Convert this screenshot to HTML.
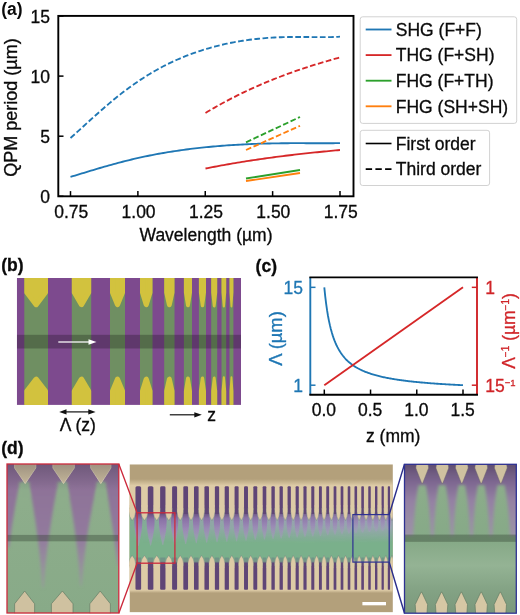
<!DOCTYPE html>
<html lang="en"><head><meta charset="utf-8"><title>Figure</title>
<style>
html,body{margin:0;padding:0;background:#fff;}
body{width:520px;height:615px;overflow:hidden;}
svg{display:block;}
svg text{font-family:"Liberation Sans", Arial, sans-serif;font-size:17.5px;stroke-width:0.3px;}
</style></head><body>
<svg width="520" height="615" viewBox="0 0 520 615" fill="#0a0a0a">
<rect width="520" height="615" fill="#fff"/>
<g id="panel-a">
<path d="M70.50,176.87 L72.76,176.20 L75.03,175.53 L77.29,174.84 L79.56,174.16 L81.82,173.47 L84.09,172.78 L86.35,172.09 L88.62,171.40 L90.88,170.72 L93.15,170.03 L95.41,169.35 L97.68,168.68 L99.94,168.01 L102.21,167.35 L104.47,166.69 L106.74,166.04 L109.00,165.40 L111.26,164.77 L113.53,164.14 L115.79,163.53 L118.06,162.92 L120.32,162.32 L122.59,161.73 L124.85,161.16 L127.12,160.59 L129.38,160.03 L131.65,159.49 L133.91,158.95 L136.18,158.43 L138.44,157.91 L140.71,157.41 L142.97,156.92 L145.24,156.44 L147.50,155.97 L149.76,155.51 L152.03,155.06 L154.29,154.62 L156.56,154.19 L158.82,153.77 L161.09,153.36 L163.35,152.97 L165.62,152.58 L167.88,152.20 L170.15,151.84 L172.41,151.48 L174.68,151.13 L176.94,150.79 L179.21,150.46 L181.47,150.14 L183.74,149.83 L186.00,149.53 L188.26,149.23 L190.53,148.95 L192.79,148.67 L195.06,148.40 L197.32,148.14 L199.59,147.89 L201.85,147.65 L204.12,147.41 L206.38,147.18 L208.65,146.96 L210.91,146.74 L213.18,146.54 L215.44,146.34 L217.71,146.14 L219.97,145.96 L222.24,145.78 L224.50,145.60 L226.76,145.44 L229.03,145.28 L231.29,145.13 L233.56,144.98 L235.82,144.84 L238.09,144.71 L240.35,144.58 L242.62,144.46 L244.88,144.34 L247.15,144.23 L249.41,144.13 L251.68,144.03 L253.94,143.94 L256.21,143.86 L258.47,143.78 L260.74,143.70 L263.00,143.63 L265.26,143.57 L267.53,143.51 L269.79,143.46 L272.06,143.41 L274.32,143.37 L276.59,143.33 L278.85,143.30 L281.12,143.27 L283.38,143.25 L285.65,143.23 L287.91,143.21 L290.18,143.20 L292.44,143.19 L294.71,143.19 L296.97,143.19 L299.24,143.19 L301.50,143.19 L303.76,143.20 L306.03,143.20 L308.29,143.21 L310.56,143.22 L312.82,143.23 L315.09,143.24 L317.35,143.25 L319.62,143.25 L321.88,143.25 L324.15,143.25 L326.41,143.25 L328.68,143.24 L330.94,143.23 L333.21,143.21 L335.47,143.18 L337.74,143.15 L340.00,143.10" fill="none" stroke="#1f77b4" stroke-width="1.85"/>
<path d="M205.50,168.51 L207.78,168.06 L210.06,167.61 L212.34,167.17 L214.62,166.73 L216.90,166.30 L219.18,165.87 L221.46,165.45 L223.74,165.04 L226.02,164.63 L228.30,164.23 L230.58,163.83 L232.86,163.44 L235.14,163.06 L237.42,162.67 L239.69,162.30 L241.97,161.93 L244.25,161.56 L246.53,161.20 L248.81,160.85 L251.09,160.50 L253.37,160.15 L255.65,159.81 L257.93,159.48 L260.21,159.14 L262.49,158.82 L264.77,158.50 L267.05,158.18 L269.33,157.87 L271.61,157.56 L273.89,157.25 L276.17,156.95 L278.45,156.66 L280.73,156.36 L283.01,156.08 L285.29,155.79 L287.57,155.51 L289.85,155.24 L292.13,154.97 L294.41,154.70 L296.69,154.43 L298.97,154.17 L301.25,153.91 L303.53,153.66 L305.81,153.41 L308.08,153.16 L310.36,152.92 L312.64,152.68 L314.92,152.44 L317.20,152.21 L319.48,151.98 L321.76,151.75 L324.04,151.52 L326.32,151.30 L328.60,151.08 L330.88,150.86 L333.16,150.65 L335.44,150.44 L337.72,150.23 L340.00,150.02" fill="none" stroke="#d62728" stroke-width="1.85"/>
<path d="M246.00,178.50 L300.00,170.00" fill="none" stroke="#2ca02c" stroke-width="1.85"/>
<path d="M246.00,181.00 L300.00,173.00" fill="none" stroke="#ff7f0e" stroke-width="1.85"/>
<path d="M70.50,138.02 L72.76,136.01 L75.03,133.98 L77.29,131.93 L79.56,129.87 L81.82,127.81 L84.09,125.74 L86.35,123.67 L88.62,121.61 L90.88,119.55 L93.15,117.50 L95.41,115.46 L97.68,113.44 L99.94,111.43 L102.21,109.44 L104.47,107.47 L106.74,105.53 L109.00,103.60 L111.26,101.70 L113.53,99.83 L115.79,97.98 L118.06,96.16 L120.32,94.37 L122.59,92.60 L124.85,90.87 L127.12,89.17 L129.38,87.50 L131.65,85.86 L133.91,84.26 L136.18,82.68 L138.44,81.14 L140.71,79.63 L142.97,78.15 L145.24,76.71 L147.50,75.30 L149.76,73.92 L152.03,72.57 L154.29,71.25 L156.56,69.97 L158.82,68.71 L161.09,67.49 L163.35,66.30 L165.62,65.14 L167.88,64.01 L170.15,62.91 L172.41,61.83 L174.68,60.79 L176.94,59.77 L179.21,58.78 L181.47,57.82 L183.74,56.89 L186.00,55.98 L188.26,55.10 L190.53,54.25 L192.79,53.42 L195.06,52.61 L197.32,51.83 L199.59,51.07 L201.85,50.34 L204.12,49.63 L206.38,48.94 L208.65,48.27 L210.91,47.63 L213.18,47.01 L215.44,46.41 L217.71,45.83 L219.97,45.27 L222.24,44.73 L224.50,44.21 L226.76,43.72 L229.03,43.24 L231.29,42.78 L233.56,42.34 L235.82,41.92 L238.09,41.52 L240.35,41.14 L242.62,40.77 L244.88,40.43 L247.15,40.10 L249.41,39.79 L251.68,39.50 L253.94,39.22 L256.21,38.97 L258.47,38.73 L260.74,38.50 L263.00,38.30 L265.26,38.11 L267.53,37.93 L269.79,37.77 L272.06,37.63 L274.32,37.51 L276.59,37.39 L278.85,37.29 L281.12,37.21 L283.38,37.14 L285.65,37.08 L287.91,37.04 L290.18,37.00 L292.44,36.98 L294.71,36.96 L296.97,36.96 L299.24,36.96 L301.50,36.97 L303.76,36.99 L306.03,37.01 L308.29,37.03 L310.56,37.06 L312.82,37.09 L315.09,37.11 L317.35,37.14 L319.62,37.15 L321.88,37.16 L324.15,37.16 L326.41,37.15 L328.68,37.13 L330.94,37.09 L333.21,37.03 L335.47,36.94 L337.74,36.84 L340.00,36.70" fill="none" stroke="#1f77b4" stroke-width="1.85" stroke-dasharray="5.7 2.5"/>
<path d="M205.50,112.94 L207.78,111.57 L210.06,110.23 L212.34,108.90 L214.62,107.59 L216.90,106.30 L219.18,105.02 L221.46,103.76 L223.74,102.52 L226.02,101.30 L228.30,100.09 L230.58,98.90 L232.86,97.72 L235.14,96.57 L237.42,95.42 L239.69,94.30 L241.97,93.18 L244.25,92.09 L246.53,91.01 L248.81,89.94 L251.09,88.89 L253.37,87.86 L255.65,86.83 L257.93,85.83 L260.21,84.83 L262.49,83.85 L264.77,82.89 L267.05,81.93 L269.33,81.00 L271.61,80.07 L273.89,79.16 L276.17,78.26 L278.45,77.37 L280.73,76.49 L283.01,75.63 L285.29,74.78 L287.57,73.94 L289.85,73.11 L292.13,72.30 L294.41,71.49 L296.69,70.70 L298.97,69.92 L301.25,69.14 L303.53,68.38 L305.81,67.63 L308.08,66.89 L310.36,66.16 L312.64,65.44 L314.92,64.72 L317.20,64.02 L319.48,63.33 L321.76,62.64 L324.04,61.97 L326.32,61.30 L328.60,60.64 L330.88,59.99 L333.16,59.35 L335.44,58.72 L337.72,58.09 L340.00,57.47" fill="none" stroke="#d62728" stroke-width="1.85" stroke-dasharray="5.7 2.5"/>
<path d="M246.00,142.30 L300.00,117.00" fill="none" stroke="#2ca02c" stroke-width="1.85" stroke-dasharray="5.7 2.5"/>
<path d="M246.00,150.00 L300.00,125.80" fill="none" stroke="#ff7f0e" stroke-width="1.85" stroke-dasharray="5.7 2.5"/>
<line x1="70.50" y1="196.3" x2="70.50" y2="191.10000000000002" stroke="#000" stroke-width="1.5"/>
<text x="71.20" y="217.6" text-anchor="middle" stroke="#0a0a0a">0.75</text>
<line x1="137.88" y1="196.3" x2="137.88" y2="191.10000000000002" stroke="#000" stroke-width="1.5"/>
<text x="138.57" y="217.6" text-anchor="middle" stroke="#0a0a0a">1.00</text>
<line x1="205.25" y1="196.3" x2="205.25" y2="191.10000000000002" stroke="#000" stroke-width="1.5"/>
<text x="205.95" y="217.6" text-anchor="middle" stroke="#0a0a0a">1.25</text>
<line x1="272.62" y1="196.3" x2="272.62" y2="191.10000000000002" stroke="#000" stroke-width="1.5"/>
<text x="273.32" y="217.6" text-anchor="middle" stroke="#0a0a0a">1.50</text>
<line x1="340.00" y1="196.3" x2="340.00" y2="191.10000000000002" stroke="#000" stroke-width="1.5"/>
<text x="340.70" y="217.6" text-anchor="middle" stroke="#0a0a0a">1.75</text>
<line x1="58.3" y1="196.30" x2="63.5" y2="196.30" stroke="#000" stroke-width="1.5"/>
<text x="50" y="202.80" text-anchor="end" stroke="#0a0a0a">0</text>
<line x1="58.3" y1="136.20" x2="63.5" y2="136.20" stroke="#000" stroke-width="1.5"/>
<text x="50" y="142.70" text-anchor="end" stroke="#0a0a0a">5</text>
<line x1="58.3" y1="76.10" x2="63.5" y2="76.10" stroke="#000" stroke-width="1.5"/>
<text x="50" y="82.60" text-anchor="end" stroke="#0a0a0a">10</text>
<line x1="58.3" y1="16.00" x2="63.5" y2="16.00" stroke="#000" stroke-width="1.5"/>
<text x="50" y="22.50" text-anchor="end" stroke="#0a0a0a">15</text>
<rect x="58.3" y="15.9" width="295.2" height="180.4" fill="none" stroke="#000" stroke-width="1.9"/>
<text x="206" y="241.3" text-anchor="middle" stroke="#0a0a0a">Wavelength (µm)</text>
<text transform="translate(16.9,107.6) rotate(-90) scale(1.03,1)" text-anchor="middle" stroke="#0a0a0a">QPM period (µm)</text>
<text x="1.2" y="14.7" font-weight="bold" font-size="16.6" style="stroke-width:0" stroke="#0a0a0a">(a)</text>
<rect x="360.2" y="16.8" width="156.5" height="106.6" rx="2.5" fill="#fff" fill-opacity="0.8" stroke="#d2d2d2" stroke-width="1"/>
<line x1="365.7" y1="29.50" x2="391.5" y2="29.50" stroke="#1f77b4" stroke-width="1.85"/>
<text x="395.8" y="35.80" font-size="17.7" stroke="#0a0a0a">SHG (F+F)</text>
<line x1="365.7" y1="55.10" x2="391.5" y2="55.10" stroke="#d62728" stroke-width="1.85"/>
<text x="395.8" y="61.40" font-size="17.7" stroke="#0a0a0a">THG (F+SH)</text>
<line x1="365.7" y1="80.70" x2="391.5" y2="80.70" stroke="#2ca02c" stroke-width="1.85"/>
<text x="395.8" y="87.00" font-size="17.7" stroke="#0a0a0a">FHG (F+TH)</text>
<line x1="365.7" y1="106.30" x2="391.5" y2="106.30" stroke="#ff7f0e" stroke-width="1.85"/>
<text x="395.8" y="112.60" font-size="17.7" stroke="#0a0a0a">FHG (SH+SH)</text>
<rect x="360.2" y="130.3" width="129.4" height="55.2" rx="2.5" fill="#fff" fill-opacity="0.8" stroke="#d2d2d2" stroke-width="1"/>
<line x1="365.7" y1="143.5" x2="391.5" y2="143.5" stroke="#000" stroke-width="1.6"/>
<text x="395.8" y="149.8" font-size="17.7" stroke="#0a0a0a">First order</text>
<line x1="365.7" y1="169.1" x2="391.5" y2="169.1" stroke="#000" stroke-width="1.85" stroke-dasharray="6.4 3.3"/>
<text x="395.8" y="175.4" font-size="17.7" stroke="#0a0a0a">Third order</text>
</g>
<g id="panel-b">
<text x="1.3" y="271.3" font-weight="bold" font-size="17.7" stroke="#0a0a0a">(b)</text>
<clipPath id="clipb"><rect x="16.8" y="278.0" width="224.2" height="126.89999999999998"/></clipPath>
<g clip-path="url(#clipb)">
<rect x="16.8" y="278.0" width="224.2" height="126.89999999999998" fill="#7d4a8e"/>
<rect x="24.3" y="278.0" width="23.70" height="126.89999999999998" fill="#6f8f62"/>
<path d="M26.90,275.0 L45.40,275.0 L45.40,292.5 L36.15,304.61 L26.90,292.5 Z" fill="#d2c23e" stroke="#d2c23e" stroke-width="5.20" stroke-linejoin="round"/>
<path d="M26.90,407.9 L45.40,407.9 L45.40,391.0 L36.15,379.19 L26.90,391.0 Z" fill="#d2c23e" stroke="#d2c23e" stroke-width="5.20" stroke-linejoin="round"/>
<rect x="71.8" y="278.0" width="19.40" height="126.89999999999998" fill="#6f8f62"/>
<path d="M74.40,275.0 L88.60,275.0 L88.60,292.5 L81.50,304.61 L74.40,292.5 Z" fill="#d2c23e" stroke="#d2c23e" stroke-width="5.20" stroke-linejoin="round"/>
<path d="M74.40,407.9 L88.60,407.9 L88.60,391.0 L81.50,379.19 L74.40,391.0 Z" fill="#d2c23e" stroke="#d2c23e" stroke-width="5.20" stroke-linejoin="round"/>
<rect x="110.0" y="278.0" width="15.00" height="126.89999999999998" fill="#6f8f62"/>
<path d="M112.60,275.0 L122.40,275.0 L122.40,292.5 L117.50,304.61 L112.60,292.5 Z" fill="#d2c23e" stroke="#d2c23e" stroke-width="5.20" stroke-linejoin="round"/>
<path d="M112.60,407.9 L122.40,407.9 L122.40,391.0 L117.50,379.19 L112.60,391.0 Z" fill="#d2c23e" stroke="#d2c23e" stroke-width="5.20" stroke-linejoin="round"/>
<rect x="140.0" y="278.0" width="12.50" height="126.89999999999998" fill="#6f8f62"/>
<path d="M142.60,275.0 L149.90,275.0 L149.90,292.5 L146.25,304.61 L142.60,292.5 Z" fill="#d2c23e" stroke="#d2c23e" stroke-width="5.20" stroke-linejoin="round"/>
<path d="M142.60,407.9 L149.90,407.9 L149.90,391.0 L146.25,379.19 L142.60,391.0 Z" fill="#d2c23e" stroke="#d2c23e" stroke-width="5.20" stroke-linejoin="round"/>
<rect x="164.2" y="278.0" width="10.30" height="126.89999999999998" fill="#6f8f62"/>
<path d="M166.65,275.0 L172.05,275.0 L172.05,292.5 L169.35,304.78 L166.65,292.5 Z" fill="#d2c23e" stroke="#d2c23e" stroke-width="4.90" stroke-linejoin="round"/>
<path d="M166.65,407.9 L172.05,407.9 L172.05,391.0 L169.35,379.02 L166.65,391.0 Z" fill="#d2c23e" stroke="#d2c23e" stroke-width="4.90" stroke-linejoin="round"/>
<rect x="183.9" y="278.0" width="8.10" height="126.89999999999998" fill="#6f8f62"/>
<path d="M185.83,275.0 L190.07,275.0 L190.07,292.5 L187.95,305.38 L185.83,292.5 Z" fill="#d2c23e" stroke="#d2c23e" stroke-width="3.86" stroke-linejoin="round"/>
<path d="M185.83,407.9 L190.07,407.9 L190.07,391.0 L187.95,378.42 L185.83,391.0 Z" fill="#d2c23e" stroke="#d2c23e" stroke-width="3.86" stroke-linejoin="round"/>
<rect x="198.9" y="278.0" width="7.10" height="126.89999999999998" fill="#6f8f62"/>
<path d="M200.59,275.0 L204.31,275.0 L204.31,292.5 L202.45,305.66 L200.59,292.5 Z" fill="#d2c23e" stroke="#d2c23e" stroke-width="3.38" stroke-linejoin="round"/>
<path d="M200.59,407.9 L204.31,407.9 L204.31,391.0 L202.45,378.14 L200.59,391.0 Z" fill="#d2c23e" stroke="#d2c23e" stroke-width="3.38" stroke-linejoin="round"/>
<rect x="211.2" y="278.0" width="6.00" height="126.89999999999998" fill="#6f8f62"/>
<path d="M212.63,275.0 L215.77,275.0 L215.77,292.5 L214.20,305.96 L212.63,292.5 Z" fill="#d2c23e" stroke="#d2c23e" stroke-width="2.86" stroke-linejoin="round"/>
<path d="M212.63,407.9 L215.77,407.9 L215.77,391.0 L214.20,377.84 L212.63,391.0 Z" fill="#d2c23e" stroke="#d2c23e" stroke-width="2.86" stroke-linejoin="round"/>
<rect x="221.5" y="278.0" width="4.70" height="126.89999999999998" fill="#6f8f62"/>
<path d="M222.62,275.0 L225.08,275.0 L225.08,292.5 L223.85,306.31 L222.62,292.5 Z" fill="#d2c23e" stroke="#d2c23e" stroke-width="2.24" stroke-linejoin="round"/>
<path d="M222.62,407.9 L225.08,407.9 L225.08,391.0 L223.85,377.49 L222.62,391.0 Z" fill="#d2c23e" stroke="#d2c23e" stroke-width="2.24" stroke-linejoin="round"/>
<rect x="229.5" y="278.0" width="3.90" height="126.89999999999998" fill="#6f8f62"/>
<path d="M230.43,275.0 L232.47,275.0 L232.47,292.5 L231.45,306.53 L230.43,292.5 Z" fill="#d2c23e" stroke="#d2c23e" stroke-width="1.86" stroke-linejoin="round"/>
<path d="M230.43,407.9 L232.47,407.9 L232.47,391.0 L231.45,377.27 L230.43,391.0 Z" fill="#d2c23e" stroke="#d2c23e" stroke-width="1.86" stroke-linejoin="round"/>
<rect x="16.8" y="334.8" width="224.2" height="13.7" fill="#000" fill-opacity="0.24"/>
</g>
<line x1="58.3" y1="342" x2="90" y2="342" stroke="#fff" stroke-width="1.25"/>
<path d="M96.5,342 L88.5,339.2 L88.5,344.8 Z" fill="#fff"/>
<line x1="63" y1="411.9" x2="92" y2="411.9" stroke="#111" stroke-width="1.2"/>
<path d="M59.2,411.9 L66.5,409.3 L66.5,414.5 Z M95.6,411.9 L88.3,409.3 L88.3,414.5 Z" fill="#111"/>
<text x="77.8" y="430.8" text-anchor="middle" stroke="#0a0a0a">Λ (z)</text>
<line x1="169.8" y1="414.8" x2="196" y2="414.8" stroke="#111" stroke-width="1.2"/>
<path d="M201.8,414.8 L194.3,412.2 L194.3,417.4 Z" fill="#111"/>
<text x="207.3" y="420.5" stroke="#0a0a0a">z</text>
</g>
<g id="panel-c">
<text x="255.6" y="272.4" font-weight="bold" font-size="17.7" stroke="#0a0a0a">(c)</text>
<path d="M324.30,287.34 L325.23,296.35 L326.16,303.93 L327.09,310.40 L328.02,315.98 L328.95,320.85 L329.89,325.14 L330.82,328.94 L331.75,332.33 L332.68,335.38 L333.61,338.13 L334.54,340.63 L335.47,342.91 L336.40,344.99 L337.33,346.91 L338.26,348.67 L339.19,350.31 L340.13,351.82 L341.06,353.23 L341.99,354.55 L342.92,355.77 L343.85,356.92 L344.78,358.00 L345.71,359.02 L346.64,359.98 L347.57,360.88 L348.50,361.74 L349.43,362.55 L350.37,363.31 L351.30,364.04 L352.23,364.73 L353.16,365.39 L354.09,366.02 L355.02,366.62 L355.95,367.19 L356.88,367.74 L357.81,368.27 L358.74,368.77 L359.67,369.25 L360.61,369.71 L361.54,370.16 L362.47,370.58 L363.40,370.99 L364.33,371.39 L365.26,371.77 L366.19,372.14 L367.12,372.49 L368.05,372.83 L368.98,373.16 L369.91,373.48 L370.85,373.79 L371.78,374.09 L372.71,374.38 L373.64,374.66 L374.57,374.93 L375.50,375.19 L376.43,375.45 L377.36,375.69 L378.29,375.93 L379.22,376.17 L380.15,376.39 L381.09,376.61 L382.02,376.83 L382.95,377.04 L383.88,377.24 L384.81,377.44 L385.74,377.63 L386.67,377.82 L387.60,378.00 L388.53,378.18 L389.46,378.35 L390.39,378.52 L391.33,378.69 L392.26,378.85 L393.19,379.01 L394.12,379.16 L395.05,379.31 L395.98,379.46 L396.91,379.60 L397.84,379.74 L398.77,379.88 L399.70,380.01 L400.63,380.14 L401.57,380.27 L402.50,380.40 L403.43,380.52 L404.36,380.64 L405.29,380.76 L406.22,380.88 L407.15,380.99 L408.08,381.10 L409.01,381.21 L409.94,381.32 L410.87,381.42 L411.81,381.53 L412.74,381.63 L413.67,381.73 L414.60,381.82 L415.53,381.92 L416.46,382.01 L417.39,382.10 L418.32,382.19 L419.25,382.28 L420.18,382.37 L421.11,382.46 L422.05,382.54 L422.98,382.62 L423.91,382.70 L424.84,382.78 L425.77,382.86 L426.70,382.94 L427.63,383.02 L428.56,383.09 L429.49,383.16 L430.42,383.24 L431.35,383.31 L432.29,383.38 L433.22,383.45 L434.15,383.52 L435.08,383.58 L436.01,383.65 L436.94,383.71 L437.87,383.78 L438.80,383.84 L439.73,383.90 L440.66,383.96 L441.59,384.02 L442.53,384.08 L443.46,384.14 L444.39,384.20 L445.32,384.26 L446.25,384.31 L447.18,384.37 L448.11,384.42 L449.04,384.48 L449.97,384.53 L450.90,384.58 L451.83,384.63 L452.77,384.68 L453.70,384.73 L454.63,384.78 L455.56,384.83 L456.49,384.88 L457.42,384.93 L458.35,384.97 L459.28,385.02 L460.21,385.07 L461.14,385.11 L462.07,385.16 L463.00,385.20" fill="none" stroke="#1f77b4" stroke-width="1.85"/>
<path d="M324.30,385.20 L463.00,287.20" fill="none" stroke="#d62728" stroke-width="1.85"/>
<line x1="324.30" y1="394.75" x2="324.30" y2="389.55" stroke="#000" stroke-width="1.5"/>
<text x="323.90" y="416.2" text-anchor="middle" stroke="#0a0a0a">0.0</text>
<line x1="370.54" y1="394.75" x2="370.54" y2="389.55" stroke="#000" stroke-width="1.5"/>
<text x="370.14" y="416.2" text-anchor="middle" stroke="#0a0a0a">0.5</text>
<line x1="416.77" y1="394.75" x2="416.77" y2="389.55" stroke="#000" stroke-width="1.5"/>
<text x="416.37" y="416.2" text-anchor="middle" stroke="#0a0a0a">1.0</text>
<line x1="463.00" y1="394.75" x2="463.00" y2="389.55" stroke="#000" stroke-width="1.5"/>
<text x="462.61" y="416.2" text-anchor="middle" stroke="#0a0a0a">1.5</text>
<line x1="310.3" y1="385.20" x2="315.5" y2="385.20" stroke="#1f77b4" stroke-width="1.5"/>
<line x1="477.0" y1="385.20" x2="471.8" y2="385.20" stroke="#d02428" stroke-width="1.5"/>
<text x="303" y="392.00" text-anchor="end" fill="#1f77b4" stroke="#1f77b4">1</text>
<line x1="310.3" y1="287.34" x2="315.5" y2="287.34" stroke="#1f77b4" stroke-width="1.5"/>
<line x1="477.0" y1="287.34" x2="471.8" y2="287.34" stroke="#d02428" stroke-width="1.5"/>
<text x="303" y="294.14" text-anchor="end" fill="#1f77b4" stroke="#1f77b4">15</text>
<text x="485.2" y="293.74" fill="#d02428" font-size="15.2" stroke="#d02428">1</text>
<text x="485.2" y="391.60" fill="#d02428" font-size="15.2" stroke="#d02428">15<tspan dy="-5.5" font-size="9.5">−1</tspan></text>
<line x1="310.3" y1="277.4" x2="310.3" y2="394.75" stroke="#1f77b4" stroke-width="1.9"/>
<line x1="477.0" y1="277.4" x2="477.0" y2="394.75" stroke="#d02428" stroke-width="1.9"/>
<line x1="309.35" y1="277.4" x2="477.95" y2="277.4" stroke="#000" stroke-width="1.9"/>
<line x1="309.35" y1="394.75" x2="477.95" y2="394.75" stroke="#000" stroke-width="1.9"/>
<text x="393.2" y="442.4" text-anchor="middle" stroke="#0a0a0a">z (mm)</text>
<text transform="translate(282,338.5) rotate(-90) scale(1.05,1)" text-anchor="middle" fill="#1f77b4" stroke="#1f77b4">Λ (µm)</text>
<text transform="translate(515,331) rotate(-90)" text-anchor="middle" fill="#d02428" stroke="#d02428">Λ<tspan dy="-6.5" font-size="10">−1</tspan><tspan dy="6.5"> (µm</tspan><tspan dy="-6.5" font-size="10">−1</tspan><tspan dy="6.5">)</tspan></text>
</g>
<g id="panel-d">
<text x="1.2" y="453.8" font-weight="bold" font-size="17.7" stroke="#0a0a0a">(d)</text>
<defs>
<filter id="bl1" x="-20%" y="-20%" width="140%" height="140%"><feGaussianBlur stdDeviation="1.6"/></filter>
<filter id="bl2" x="-20%" y="-20%" width="140%" height="140%"><feGaussianBlur stdDeviation="0.9"/></filter>
<filter id="bl3" x="-20%" y="-20%" width="140%" height="140%"><feGaussianBlur stdDeviation="0.4"/></filter>
<clipPath id="clipL"><rect x="7" y="464" width="111.8" height="149.2"/></clipPath>
<clipPath id="clipM"><rect x="129.5" y="464.3" width="263.3" height="148.3"/></clipPath>
<clipPath id="clipR"><rect x="404.5" y="464.3" width="111.8" height="148.9"/></clipPath>
<linearGradient id="gL" x1="0" y1="0" x2="0" y2="1"><stop offset="0" stop-color="#8fae8c"/><stop offset="1" stop-color="#88aa88"/></linearGradient>
</defs>
<linearGradient id="gW" gradientUnits="userSpaceOnUse" x1="0" y1="483" x2="0" y2="590"><stop offset="0" stop-color="#8d7197"/><stop offset="0.5" stop-color="#927a9d"/><stop offset="1" stop-color="#a08fa8" stop-opacity="0.55"/></linearGradient>
<g clip-path="url(#clipL)">
<rect x="7.0" y="464.0" width="111.8" height="149.0" fill="url(#gL)"/>
<g filter="url(#bl1)" fill="url(#gW)">
<path d="M29.5,480 L57.5,480 L57.5,486 Q47.1,537.0 43.6,588 L42.4,588 Q39.2,537.0 29.5,486 Z" fill-opacity="1.0"/>
<path d="M67.5,480 L96.5,480 L96.5,486 Q85.3,536.0 81.6,586 L80.4,586 Q77.2,536.0 67.5,486 Z" fill-opacity="1.0"/>
<path d="M-2,480 L19,480 L19,486 Q12.7,517.0 9.1,548 L7.9,548 Q4.3,517.0 -2,486 Z" fill-opacity="1.0"/>
<path d="M106,480 L126,480 L126,486 Q121.2,526.0 118.6,566 L117.4,566 Q113.2,526.0 106,486 Z" fill-opacity="1.0"/>
<rect x="0" y="455" width="125" height="27"/>
</g>
<g filter="url(#bl1)" fill="#8dac8b">
<path d="M23.0,482 L27.4,482 L30.2,497 L20.2,497 Z"/>
<path d="M61.3,482 L65.7,482 L68.5,497 L58.5,497 Z"/>
<path d="M98.6,482 L103.0,482 L105.8,497 L95.8,497 Z"/>
</g>
<path d="M14.6,462.0 L35.8,462.0 L35.8,468.0 L25.2,483.6 L14.6,468.0 Z" fill="#cfc1a0" stroke="#e2d8b8" stroke-opacity="0.9" stroke-width="1.0" stroke-linejoin="round"/>
<path d="M52.9,462.0 L74.3,462.0 L74.3,468.0 L63.5,483.6 L52.9,468.0 Z" fill="#cfc1a0" stroke="#e2d8b8" stroke-opacity="0.9" stroke-width="1.0" stroke-linejoin="round"/>
<path d="M90.7,462.0 L110.9,462.0 L110.9,468.0 L100.8,483.6 L90.7,468.0 Z" fill="#cfc1a0" stroke="#e2d8b8" stroke-opacity="0.9" stroke-width="1.0" stroke-linejoin="round"/>
<path d="M14.6,615.0 L34.6,615.0 L34.6,603.8 L24.7,591.0 L14.6,603.8 Z" fill="#cfc1a0" stroke="#5f7a62" stroke-opacity="0.65" stroke-width="1.0" stroke-linejoin="round"/>
<path d="M51.4,615.0 L73.0,615.0 L73.0,603.8 L62.4,591.0 L51.4,603.8 Z" fill="#cfc1a0" stroke="#5f7a62" stroke-opacity="0.65" stroke-width="1.0" stroke-linejoin="round"/>
<path d="M89.8,615.0 L110.4,615.0 L110.4,603.8 L100.2,591.0 L89.8,603.8 Z" fill="#cfc1a0" stroke="#5f7a62" stroke-opacity="0.65" stroke-width="1.0" stroke-linejoin="round"/>
<rect x="7.0" y="534.9" width="111.8" height="6.4" fill="#2b3a2b" fill-opacity="0.36"/>
<linearGradient id="gDk" x1="0" y1="0" x2="0" y2="1"><stop offset="0" stop-color="#201830" stop-opacity="0.28"/><stop offset="1" stop-color="#201830" stop-opacity="0"/></linearGradient>
<rect x="7.0" y="464.0" width="111.8" height="26" fill="url(#gDk)"/>
</g>
<rect x="7.0" y="464.0" width="111.8" height="149.0" fill="none" stroke="#cc2a3c" stroke-width="1.3"/>
<linearGradient id="gTan" x1="0" y1="0" x2="0" y2="1"><stop offset="0" stop-color="#b09d76"/><stop offset="0.7" stop-color="#b8a57e"/><stop offset="1" stop-color="#c4b28c"/></linearGradient>
<linearGradient id="gLav" x1="0" y1="0" x2="0" y2="1"><stop offset="0" stop-color="#a595c2" stop-opacity="0.8"/><stop offset="0.5" stop-color="#a9a0c4" stop-opacity="0.6"/><stop offset="1" stop-color="#a9a0c4" stop-opacity="0"/></linearGradient>
<linearGradient id="gDrop" x1="0" y1="0" x2="0" y2="1"><stop offset="0" stop-color="#5f4576"/><stop offset="0.1" stop-color="#684d80"/><stop offset="0.26" stop-color="#8a70a6"/><stop offset="0.55" stop-color="#9b86b6"/><stop offset="1" stop-color="#a89dbe" stop-opacity="0.5"/></linearGradient>
<g clip-path="url(#clipM)">
<rect x="129.5" y="464.3" width="263.5" height="147.99999999999994" fill="#b3a07b"/>
<linearGradient id="gBe" gradientUnits="userSpaceOnUse" x1="0" y1="479" x2="0" y2="596"><stop offset="0" stop-color="#ddcba6" stop-opacity="0"/><stop offset="0.055" stop-color="#ddcba6" stop-opacity="1"/><stop offset="0.95" stop-color="#ddcba6" stop-opacity="1"/><stop offset="0.975" stop-color="#ddcba6" stop-opacity="0"/><stop offset="1" stop-color="#ddcba6" stop-opacity="0"/></linearGradient>
<rect x="124.5" y="479" width="273.5" height="117" fill="url(#gBe)"/>
<rect x="124.5" y="513" width="273.5" height="48" fill="#7ab08b" filter="url(#bl2)"/>
<linearGradient id="gLavH" x1="0" y1="0" x2="1" y2="0"><stop offset="0" stop-color="#fff" stop-opacity="0.15"/><stop offset="0.12" stop-color="#fff" stop-opacity="0.5"/><stop offset="0.4" stop-color="#fff" stop-opacity="0.8"/><stop offset="1" stop-color="#fff" stop-opacity="1"/></linearGradient>
<mask id="mLav" maskUnits="userSpaceOnUse" x="129.5" y="505" width="263.5" height="50"><rect x="129.5" y="505" width="263.5" height="50" fill="url(#gLavH)"/></mask>
<rect x="129.5" y="513" width="263.5" height="30" fill="url(#gLav)" mask="url(#mLav)"/>
<g filter="url(#bl3)" fill="url(#gDrop)">
<path d="M135.47,510 L141.13,510 Q141.13,515 142.36,520 Q142.36,531 138.70,546.0 L137.90,546.0 Q134.24,531 134.24,520 Q135.47,515 135.47,510 Z" fill-opacity="1.00"/>
<path d="M147.81,510 L153.39,510 Q153.39,515 154.63,520 Q154.63,531 151.00,545.5 L150.20,545.5 Q146.57,531 146.57,520 Q147.81,515 147.81,510 Z" fill-opacity="0.99"/>
<path d="M160.13,510 L165.47,510 Q165.47,515 166.69,520 Q166.69,531 163.20,544.9 L162.40,544.9 Q158.91,531 158.91,520 Q160.13,515 160.13,510 Z" fill-opacity="0.98"/>
<path d="M172.10,510 L177.10,510 Q177.10,515 178.26,520 Q178.26,531 175.00,544.4 L174.20,544.4 Q170.94,531 170.94,520 Q172.10,515 172.10,510 Z" fill-opacity="0.97"/>
<path d="M183.33,510 L188.07,510 Q188.07,515 189.20,520 Q189.20,531 186.10,543.9 L185.30,543.9 Q182.20,531 182.20,520 Q183.33,515 183.33,510 Z" fill-opacity="0.97"/>
<path d="M193.99,510 L198.61,510 Q198.61,515 199.73,520 Q199.73,531 196.70,543.3 L195.90,543.3 Q192.87,531 192.87,520 Q193.99,515 193.99,510 Z" fill-opacity="0.96"/>
<path d="M204.43,510 L208.97,510 Q208.97,515 210.10,520 Q210.10,531 207.10,542.8 L206.30,542.8 Q203.30,531 203.30,520 Q204.43,515 204.43,510 Z" fill-opacity="0.95"/>
<path d="M214.86,510 L219.14,510 Q219.14,515 220.23,520 Q220.23,531 217.40,542.3 L216.60,542.3 Q213.77,531 213.77,520 Q214.86,515 214.86,510 Z" fill-opacity="0.94"/>
<path d="M224.68,510 L228.92,510 Q228.92,515 230.03,520 Q230.03,531 227.20,541.7 L226.40,541.7 Q223.57,531 223.57,520 Q224.68,515 224.68,510 Z" fill-opacity="0.93"/>
<path d="M234.58,510 L238.62,510 Q238.62,515 239.70,520 Q239.70,531 237.00,541.2 L236.20,541.2 Q233.50,531 233.50,520 Q234.58,515 234.58,510 Z" fill-opacity="0.93"/>
<path d="M244.02,510 L247.98,510 Q247.98,515 249.07,520 Q249.07,531 246.40,540.7 L245.60,540.7 Q242.93,531 242.93,520 Q244.02,515 244.02,510 Z" fill-opacity="0.92"/>
<path d="M253.35,510 L257.25,510 Q257.25,515 258.34,520 Q258.34,531 255.70,540.1 L254.90,540.1 Q252.26,531 252.26,520 Q253.35,515 253.35,510 Z" fill-opacity="0.91"/>
<path d="M262.69,510 L266.31,510 Q266.31,515 267.34,520 Q267.34,531 264.90,539.6 L264.10,539.6 Q261.66,531 261.66,520 Q262.69,515 262.69,510 Z" fill-opacity="0.90"/>
<path d="M271.41,510 L274.79,510 Q274.79,515 275.77,520 Q275.77,531 273.50,539.1 L272.70,539.1 Q270.43,531 270.43,520 Q271.41,515 271.41,510 Z" fill-opacity="0.89"/>
<path d="M279.55,510 L282.85,510 Q282.85,515 283.84,520 Q283.84,531 281.60,538.5 L280.80,538.5 Q278.56,531 278.56,520 Q279.55,515 279.55,510 Z" fill-opacity="0.88"/>
<path d="M287.56,510 L290.84,510 Q290.84,515 291.84,520 Q291.84,531 289.60,538.0 L288.80,538.0 Q286.56,531 286.56,520 Q287.56,515 287.56,510 Z" fill-opacity="0.88"/>
<path d="M295.61,510 L298.79,510 Q298.79,515 299.77,520 Q299.77,531 297.60,537.5 L296.80,537.5 Q294.63,531 294.63,520 Q295.61,515 295.61,510 Z" fill-opacity="0.87"/>
<path d="M303.43,510 L306.57,510 Q306.57,515 307.57,520 Q307.57,531 305.40,536.9 L304.60,536.9 Q302.43,531 302.43,520 Q303.43,515 303.43,510 Z" fill-opacity="0.86"/>
<path d="M311.28,510 L314.32,510 Q314.32,515 315.31,520 Q315.31,531 313.20,536.4 L312.40,536.4 Q310.29,531 310.29,520 Q311.28,515 311.28,510 Z" fill-opacity="0.85"/>
<path d="M318.95,510 L321.85,510 Q321.85,515 322.81,520 Q322.81,531 320.80,535.9 L320.00,535.9 Q317.99,531 317.99,520 Q318.95,515 318.95,510 Z" fill-opacity="0.84"/>
<path d="M326.26,510 L329.14,510 Q329.14,515 330.11,520 Q330.11,531 328.10,535.3 L327.30,535.3 Q325.29,531 325.29,520 Q326.26,515 326.26,510 Z" fill-opacity="0.83"/>
<path d="M333.63,510 L336.37,510 Q336.37,515 337.31,520 Q337.31,531 335.40,534.8 L334.60,534.8 Q332.69,531 332.69,520 Q333.63,515 333.63,510 Z" fill-opacity="0.82"/>
<path d="M340.65,510 L343.35,510 Q343.35,515 344.31,520 Q344.31,531 342.40,534.3 L341.60,534.3 Q339.69,531 339.69,520 Q340.65,515 340.65,510 Z" fill-opacity="0.82"/>
<path d="M347.70,510 L350.30,510 Q350.30,515 351.24,520 Q351.24,531 349.40,533.7 L348.60,533.7 Q346.76,531 346.76,520 Q347.70,515 347.70,510 Z" fill-opacity="0.81"/>
<path d="M354.51,510 L357.09,510 Q357.09,515 358.04,520 Q358.04,531 356.20,533.2 L355.40,533.2 Q353.56,531 353.56,520 Q354.51,515 354.51,510 Z" fill-opacity="0.80"/>
<path d="M361.30,510 L363.90,510 Q363.90,515 364.88,520 Q364.88,531 363.00,532.7 L362.20,532.7 Q360.32,531 360.32,520 Q361.30,515 361.30,510 Z" fill-opacity="0.79"/>
<path d="M368.25,510 L370.75,510 Q370.75,515 371.71,520 Q371.71,531 369.90,532.1 L369.10,532.1 Q367.29,531 367.29,520 Q368.25,515 368.25,510 Z" fill-opacity="0.78"/>
<path d="M375.00,510 L377.40,510 Q377.40,515 378.34,520 Q378.34,531 376.60,531.6 L375.80,531.6 Q374.06,531 374.06,520 Q375.00,515 375.00,510 Z" fill-opacity="0.78"/>
<path d="M381.56,510 L383.84,510 Q383.84,515 384.75,520 Q384.75,531 383.10,531.1 L382.30,531.1 Q380.65,531 380.65,520 Q381.56,515 381.56,510 Z" fill-opacity="0.77"/>
<path d="M387.79,510 L390.01,510 Q390.01,515 390.91,520 Q390.91,531 389.30,530.5 L388.50,530.5 Q386.89,531 386.89,520 Q387.79,515 387.79,510 Z" fill-opacity="0.76"/>
<path d="M393.90,510 L396.10,510 Q396.10,515 397.01,520 Q397.01,531 395.40,530.0 L394.60,530.0 Q392.99,531 392.99,520 Q393.90,515 393.90,510 Z" fill-opacity="0.75"/>
</g>
<g fill="#5f4576" filter="url(#bl3)">
<path d="M135.47,514 L135.47,487.86 Q135.47,486.3 137.03,486.3 L139.57,486.3 Q141.13,486.3 141.13,487.86 L141.13,514 Z"/>
<rect x="135.47" y="561.5" width="5.66" height="28.3" rx="1.13"/>
<path d="M147.81,514 L147.81,487.83 Q147.81,486.3 149.35,486.3 L151.85,486.3 Q153.39,486.3 153.39,487.83 L153.39,514 Z"/>
<rect x="147.81" y="561.5" width="5.57" height="28.3" rx="1.11"/>
<path d="M160.13,514 L160.13,487.77 Q160.13,486.3 161.60,486.3 L164.00,486.3 Q165.47,486.3 165.47,487.77 L165.47,514 Z"/>
<rect x="160.13" y="561.5" width="5.35" height="28.3" rx="1.07"/>
<path d="M172.10,514 L172.10,487.67 Q172.10,486.3 173.48,486.3 L175.72,486.3 Q177.10,486.3 177.10,487.67 L177.10,514 Z"/>
<rect x="172.10" y="561.5" width="4.99" height="28.3" rx="1.00"/>
<path d="M183.33,514 L183.33,487.60 Q183.33,486.3 184.63,486.3 L186.77,486.3 Q188.07,486.3 188.07,487.60 L188.07,514 Z"/>
<rect x="183.33" y="561.5" width="4.73" height="28.3" rx="0.95"/>
<path d="M193.99,514 L193.99,487.57 Q193.99,486.3 195.26,486.3 L197.34,486.3 Q198.61,486.3 198.61,487.57 L198.61,514 Z"/>
<rect x="193.99" y="561.5" width="4.61" height="28.3" rx="0.92"/>
<path d="M204.43,514 L204.43,487.55 Q204.43,486.3 205.68,486.3 L207.72,486.3 Q208.97,486.3 208.97,487.55 L208.97,514 Z"/>
<rect x="204.43" y="561.5" width="4.53" height="28.3" rx="0.91"/>
<path d="M214.86,514 L214.86,487.48 Q214.86,486.3 216.04,486.3 L217.96,486.3 Q219.14,486.3 219.14,487.48 L219.14,514 Z"/>
<rect x="214.86" y="561.5" width="4.28" height="28.3" rx="0.86"/>
<path d="M224.68,514 L224.68,487.47 Q224.68,486.3 225.84,486.3 L227.76,486.3 Q228.92,486.3 228.92,487.47 L228.92,514 Z"/>
<rect x="224.68" y="561.5" width="4.25" height="28.3" rx="0.85"/>
<path d="M234.58,514 L234.58,487.41 Q234.58,486.3 235.69,486.3 L237.51,486.3 Q238.62,486.3 238.62,487.41 L238.62,514 Z"/>
<rect x="234.58" y="561.5" width="4.04" height="28.3" rx="0.81"/>
<path d="M244.02,514 L244.02,487.39 Q244.02,486.3 245.11,486.3 L246.89,486.3 Q247.98,486.3 247.98,487.39 L247.98,514 Z"/>
<rect x="244.02" y="561.5" width="3.97" height="28.3" rx="0.79"/>
<path d="M253.35,514 L253.35,487.37 Q253.35,486.3 254.42,486.3 L256.18,486.3 Q257.25,486.3 257.25,487.37 L257.25,514 Z"/>
<rect x="253.35" y="561.5" width="3.89" height="28.3" rx="0.78"/>
<path d="M262.69,514 L262.69,487.29 Q262.69,486.3 263.69,486.3 L265.31,486.3 Q266.31,486.3 266.31,487.29 L266.31,514 Z"/>
<rect x="262.69" y="561.5" width="3.61" height="28.3" rx="0.72"/>
<path d="M271.41,514 L271.41,487.23 Q271.41,486.3 272.34,486.3 L273.86,486.3 Q274.79,486.3 274.79,487.23 L274.79,514 Z"/>
<rect x="271.41" y="561.5" width="3.37" height="28.3" rx="0.67"/>
<path d="M279.55,514 L279.55,487.21 Q279.55,486.3 280.46,486.3 L281.94,486.3 Q282.85,486.3 282.85,487.21 L282.85,514 Z"/>
<rect x="279.55" y="561.5" width="3.31" height="28.3" rx="0.66"/>
<path d="M287.56,514 L287.56,487.20 Q287.56,486.3 288.46,486.3 L289.94,486.3 Q290.84,486.3 290.84,487.20 L290.84,514 Z"/>
<rect x="287.56" y="561.5" width="3.28" height="28.3" rx="0.66"/>
<path d="M295.61,514 L295.61,487.17 Q295.61,486.3 296.49,486.3 L297.91,486.3 Q298.79,486.3 298.79,487.17 L298.79,514 Z"/>
<rect x="295.61" y="561.5" width="3.17" height="28.3" rx="0.63"/>
<path d="M303.43,514 L303.43,487.17 Q303.43,486.3 304.29,486.3 L305.71,486.3 Q306.57,486.3 306.57,487.17 L306.57,514 Z"/>
<rect x="303.43" y="561.5" width="3.15" height="28.3" rx="0.63"/>
<path d="M311.28,514 L311.28,487.14 Q311.28,486.3 312.12,486.3 L313.48,486.3 Q314.32,486.3 314.32,487.14 L314.32,514 Z"/>
<rect x="311.28" y="561.5" width="3.04" height="28.3" rx="0.61"/>
<path d="M318.95,514 L318.95,487.10 Q318.95,486.3 319.75,486.3 L321.05,486.3 Q321.85,486.3 321.85,487.10 L321.85,514 Z"/>
<rect x="318.95" y="561.5" width="2.90" height="28.3" rx="0.58"/>
<path d="M326.26,514 L326.26,487.09 Q326.26,486.3 327.05,486.3 L328.35,486.3 Q329.14,486.3 329.14,487.09 L329.14,514 Z"/>
<rect x="326.26" y="561.5" width="2.87" height="28.3" rx="0.57"/>
<path d="M333.63,514 L333.63,487.05 Q333.63,486.3 334.39,486.3 L335.61,486.3 Q336.37,486.3 336.37,487.05 L336.37,514 Z"/>
<rect x="333.63" y="561.5" width="2.73" height="28.3" rx="0.55"/>
<path d="M340.65,514 L340.65,487.04 Q340.65,486.3 341.39,486.3 L342.61,486.3 Q343.35,486.3 343.35,487.04 L343.35,514 Z"/>
<rect x="340.65" y="561.5" width="2.71" height="28.3" rx="0.54"/>
<path d="M347.70,514 L347.70,487.02 Q347.70,486.3 348.41,486.3 L349.59,486.3 Q350.30,486.3 350.30,487.02 L350.30,514 Z"/>
<rect x="347.70" y="561.5" width="2.61" height="28.3" rx="0.52"/>
<path d="M354.51,514 L354.51,487.01 Q354.51,486.3 355.22,486.3 L356.38,486.3 Q357.09,486.3 357.09,487.01 L357.09,514 Z"/>
<rect x="354.51" y="561.5" width="2.58" height="28.3" rx="0.52"/>
<path d="M361.30,514 L361.30,487.01 Q361.30,486.3 362.02,486.3 L363.18,486.3 Q363.90,486.3 363.90,487.01 L363.90,514 Z"/>
<rect x="361.30" y="561.5" width="2.60" height="28.3" rx="0.52"/>
<path d="M368.25,514 L368.25,486.99 Q368.25,486.3 368.94,486.3 L370.06,486.3 Q370.75,486.3 370.75,486.99 L370.75,514 Z"/>
<rect x="368.25" y="561.5" width="2.50" height="28.3" rx="0.50"/>
<path d="M375.00,514 L375.00,486.96 Q375.00,486.3 375.66,486.3 L376.74,486.3 Q377.40,486.3 377.40,486.96 L377.40,514 Z"/>
<rect x="375.00" y="561.5" width="2.40" height="28.3" rx="0.48"/>
<path d="M381.56,514 L381.56,486.93 Q381.56,486.3 382.19,486.3 L383.21,486.3 Q383.84,486.3 383.84,486.93 L383.84,514 Z"/>
<rect x="381.56" y="561.5" width="2.27" height="28.3" rx="0.45"/>
<path d="M387.79,514 L387.79,486.91 Q387.79,486.3 388.40,486.3 L389.40,486.3 Q390.01,486.3 390.01,486.91 L390.01,514 Z"/>
<rect x="387.79" y="561.5" width="2.22" height="28.3" rx="0.44"/>
<path d="M393.90,514 L393.90,486.90 Q393.90,486.3 394.51,486.3 L395.49,486.3 Q396.10,486.3 396.10,486.90 L396.10,514 Z"/>
<rect x="393.90" y="561.5" width="2.20" height="28.3" rx="0.44"/>
</g>
<g fill="#6f8f86" filter="url(#bl3)">
<rect x="135.47" y="557.5" width="5.66" height="5" fill-opacity="0.85"/>
<rect x="147.81" y="557.5" width="5.57" height="5" fill-opacity="0.85"/>
<rect x="160.13" y="557.5" width="5.35" height="5" fill-opacity="0.85"/>
<rect x="172.10" y="557.5" width="4.99" height="5" fill-opacity="0.85"/>
<rect x="183.33" y="557.5" width="4.73" height="5" fill-opacity="0.85"/>
<rect x="193.99" y="557.5" width="4.61" height="5" fill-opacity="0.85"/>
<rect x="204.43" y="557.5" width="4.53" height="5" fill-opacity="0.85"/>
<rect x="214.86" y="557.5" width="4.28" height="5" fill-opacity="0.85"/>
<rect x="224.68" y="557.5" width="4.25" height="5" fill-opacity="0.85"/>
<rect x="234.58" y="557.5" width="4.04" height="5" fill-opacity="0.85"/>
<rect x="244.02" y="557.5" width="3.97" height="5" fill-opacity="0.85"/>
<rect x="253.35" y="557.5" width="3.89" height="5" fill-opacity="0.85"/>
<rect x="262.69" y="557.5" width="3.61" height="5" fill-opacity="0.85"/>
<rect x="271.41" y="557.5" width="3.37" height="5" fill-opacity="0.85"/>
<rect x="279.55" y="557.5" width="3.31" height="5" fill-opacity="0.85"/>
<rect x="287.56" y="557.5" width="3.28" height="5" fill-opacity="0.85"/>
<rect x="295.61" y="557.5" width="3.17" height="5" fill-opacity="0.85"/>
<rect x="303.43" y="557.5" width="3.15" height="5" fill-opacity="0.85"/>
<rect x="311.28" y="557.5" width="3.04" height="5" fill-opacity="0.85"/>
<rect x="318.95" y="557.5" width="2.90" height="5" fill-opacity="0.85"/>
<rect x="326.26" y="557.5" width="2.87" height="5" fill-opacity="0.85"/>
<rect x="333.63" y="557.5" width="2.73" height="5" fill-opacity="0.85"/>
<rect x="340.65" y="557.5" width="2.71" height="5" fill-opacity="0.85"/>
<rect x="347.70" y="557.5" width="2.61" height="5" fill-opacity="0.85"/>
<rect x="354.51" y="557.5" width="2.58" height="5" fill-opacity="0.85"/>
<rect x="361.30" y="557.5" width="2.60" height="5" fill-opacity="0.85"/>
<rect x="368.25" y="557.5" width="2.50" height="5" fill-opacity="0.85"/>
<rect x="375.00" y="557.5" width="2.40" height="5" fill-opacity="0.85"/>
<rect x="381.56" y="557.5" width="2.27" height="5" fill-opacity="0.85"/>
<rect x="387.79" y="557.5" width="2.22" height="5" fill-opacity="0.85"/>
<rect x="393.90" y="557.5" width="2.20" height="5" fill-opacity="0.85"/>
</g>
<g fill="#ddcba6" stroke="#6f7f80" stroke-opacity="0.55" stroke-width="0.7" stroke-linejoin="round">
<path d="M128.87,508 L135.47,508 L135.47,512.5 Q135.47,516.5 132.17,520.6 Q128.87,516.5 128.87,512.5 Z"/>
<path d="M128.87,566 L135.47,566 L135.47,562.5 Q135.47,559 132.17,555.4 Q128.87,559 128.87,562.5 Z"/>
<path d="M141.13,508 L147.81,508 L147.81,512.5 Q147.81,516.5 144.47,520.6 Q141.13,516.5 141.13,512.5 Z"/>
<path d="M141.13,566 L147.81,566 L147.81,562.5 Q147.81,559 144.47,555.4 Q141.13,559 141.13,562.5 Z"/>
<path d="M153.39,508 L160.13,508 L160.13,512.5 Q160.13,516.5 156.76,520.6 Q153.39,516.5 153.39,512.5 Z"/>
<path d="M153.39,566 L160.13,566 L160.13,562.5 Q160.13,559 156.76,555.4 Q153.39,559 153.39,562.5 Z"/>
<path d="M165.47,508 L172.10,508 L172.10,512.5 Q172.10,516.5 168.79,520.6 Q165.47,516.5 165.47,512.5 Z"/>
<path d="M165.47,566 L172.10,566 L172.10,562.5 Q172.10,559 168.79,555.4 Q165.47,559 165.47,562.5 Z"/>
<path d="M177.10,508 L183.33,508 L183.33,512.5 Q183.33,516.5 180.22,520.6 Q177.10,516.5 177.10,512.5 Z"/>
<path d="M177.10,566 L183.33,566 L183.33,562.5 Q183.33,559 180.22,555.4 Q177.10,559 177.10,562.5 Z"/>
<path d="M188.07,508 L193.99,508 L193.99,512.5 Q193.99,516.5 191.03,520.6 Q188.07,516.5 188.07,512.5 Z"/>
<path d="M188.07,566 L193.99,566 L193.99,562.5 Q193.99,559 191.03,555.4 Q188.07,559 188.07,562.5 Z"/>
<path d="M198.61,508 L204.43,508 L204.43,512.5 Q204.43,516.5 201.52,520.6 Q198.61,516.5 198.61,512.5 Z"/>
<path d="M198.61,566 L204.43,566 L204.43,562.5 Q204.43,559 201.52,555.4 Q198.61,559 198.61,562.5 Z"/>
<path d="M208.97,508 L214.86,508 L214.86,512.5 Q214.86,516.5 211.91,520.6 Q208.97,516.5 208.97,512.5 Z"/>
<path d="M208.97,566 L214.86,566 L214.86,562.5 Q214.86,559 211.91,555.4 Q208.97,559 208.97,562.5 Z"/>
<path d="M219.14,508 L224.68,508 L224.68,512.5 Q224.68,516.5 221.91,520.6 Q219.14,516.5 219.14,512.5 Z"/>
<path d="M219.14,566 L224.68,566 L224.68,562.5 Q224.68,559 221.91,555.4 Q219.14,559 219.14,562.5 Z"/>
<path d="M228.92,508 L234.58,508 L234.58,512.5 Q234.58,516.5 231.75,520.6 Q228.92,516.5 228.92,512.5 Z"/>
<path d="M228.92,566 L234.58,566 L234.58,562.5 Q234.58,559 231.75,555.4 Q228.92,559 228.92,562.5 Z"/>
<path d="M238.62,508 L244.02,508 L244.02,512.5 Q244.02,516.5 241.32,520.6 Q238.62,516.5 238.62,512.5 Z"/>
<path d="M238.62,566 L244.02,566 L244.02,562.5 Q244.02,559 241.32,555.4 Q238.62,559 238.62,562.5 Z"/>
<path d="M247.98,508 L253.35,508 L253.35,512.5 Q253.35,516.5 250.67,520.6 Q247.98,516.5 247.98,512.5 Z"/>
<path d="M247.98,566 L253.35,566 L253.35,562.5 Q253.35,559 250.67,555.4 Q247.98,559 247.98,562.5 Z"/>
<path d="M257.25,508 L262.69,508 L262.69,512.5 Q262.69,516.5 259.97,520.6 Q257.25,516.5 257.25,512.5 Z"/>
<path d="M257.25,566 L262.69,566 L262.69,562.5 Q262.69,559 259.97,555.4 Q257.25,559 257.25,562.5 Z"/>
<path d="M266.31,508 L271.41,508 L271.41,512.5 Q271.41,516.5 268.86,520.6 Q266.31,516.5 266.31,512.5 Z"/>
<path d="M266.31,566 L271.41,566 L271.41,562.5 Q271.41,559 268.86,555.4 Q266.31,559 266.31,562.5 Z"/>
<path d="M274.79,508 L279.55,508 L279.55,512.5 Q279.55,516.5 277.17,520.6 Q274.79,516.5 274.79,512.5 Z"/>
<path d="M274.79,566 L279.55,566 L279.55,562.5 Q279.55,559 277.17,555.4 Q274.79,559 274.79,562.5 Z"/>
<path d="M282.85,508 L287.56,508 L287.56,512.5 Q287.56,516.5 285.21,520.6 Q282.85,516.5 282.85,512.5 Z"/>
<path d="M282.85,566 L287.56,566 L287.56,562.5 Q287.56,559 285.21,555.4 Q282.85,559 282.85,562.5 Z"/>
<path d="M290.84,508 L295.61,508 L295.61,512.5 Q295.61,516.5 293.23,520.6 Q290.84,516.5 290.84,512.5 Z"/>
<path d="M290.84,566 L295.61,566 L295.61,562.5 Q295.61,559 293.23,555.4 Q290.84,559 290.84,562.5 Z"/>
<path d="M298.79,508 L303.43,508 L303.43,512.5 Q303.43,516.5 301.11,520.6 Q298.79,516.5 298.79,512.5 Z"/>
<path d="M298.79,566 L303.43,566 L303.43,562.5 Q303.43,559 301.11,555.4 Q298.79,559 298.79,562.5 Z"/>
<path d="M306.57,508 L311.28,508 L311.28,512.5 Q311.28,516.5 308.93,520.6 Q306.57,516.5 306.57,512.5 Z"/>
<path d="M306.57,566 L311.28,566 L311.28,562.5 Q311.28,559 308.93,555.4 Q306.57,559 306.57,562.5 Z"/>
<path d="M314.32,508 L318.95,508 L318.95,512.5 Q318.95,516.5 316.64,520.6 Q314.32,516.5 314.32,512.5 Z"/>
<path d="M314.32,566 L318.95,566 L318.95,562.5 Q318.95,559 316.64,555.4 Q314.32,559 314.32,562.5 Z"/>
<path d="M321.85,508 L326.26,508 L326.26,512.5 Q326.26,516.5 324.06,520.6 Q321.85,516.5 321.85,512.5 Z"/>
<path d="M321.85,566 L326.26,566 L326.26,562.5 Q326.26,559 324.06,555.4 Q321.85,559 321.85,562.5 Z"/>
<path d="M329.14,508 L333.63,508 L333.63,512.5 Q333.63,516.5 331.39,520.6 Q329.14,516.5 329.14,512.5 Z"/>
<path d="M329.14,566 L333.63,566 L333.63,562.5 Q333.63,559 331.39,555.4 Q329.14,559 329.14,562.5 Z"/>
<path d="M336.37,508 L340.65,508 L340.65,512.5 Q340.65,516.5 338.51,520.6 Q336.37,516.5 336.37,512.5 Z"/>
<path d="M336.37,566 L340.65,566 L340.65,562.5 Q340.65,559 338.51,555.4 Q336.37,559 336.37,562.5 Z"/>
<path d="M343.35,508 L347.70,508 L347.70,512.5 Q347.70,516.5 345.52,520.6 Q343.35,516.5 343.35,512.5 Z"/>
<path d="M343.35,566 L347.70,566 L347.70,562.5 Q347.70,559 345.52,555.4 Q343.35,559 343.35,562.5 Z"/>
<path d="M350.30,508 L354.51,508 L354.51,512.5 Q354.51,516.5 352.41,520.6 Q350.30,516.5 350.30,512.5 Z"/>
<path d="M350.30,566 L354.51,566 L354.51,562.5 Q354.51,559 352.41,555.4 Q350.30,559 350.30,562.5 Z"/>
<path d="M357.09,508 L361.30,508 L361.30,512.5 Q361.30,516.5 359.20,520.6 Q357.09,516.5 357.09,512.5 Z"/>
<path d="M357.09,566 L361.30,566 L361.30,562.5 Q361.30,559 359.20,555.4 Q357.09,559 357.09,562.5 Z"/>
<path d="M363.90,508 L368.25,508 L368.25,512.5 Q368.25,516.5 366.07,520.6 Q363.90,516.5 363.90,512.5 Z"/>
<path d="M363.90,566 L368.25,566 L368.25,562.5 Q368.25,559 366.07,555.4 Q363.90,559 363.90,562.5 Z"/>
<path d="M370.75,508 L375.00,508 L375.00,512.5 Q375.00,516.5 372.87,520.6 Q370.75,516.5 370.75,512.5 Z"/>
<path d="M370.75,566 L375.00,566 L375.00,562.5 Q375.00,559 372.87,555.4 Q370.75,559 370.75,562.5 Z"/>
<path d="M377.40,508 L381.56,508 L381.56,512.5 Q381.56,516.5 379.48,520.6 Q377.40,516.5 377.40,512.5 Z"/>
<path d="M377.40,566 L381.56,566 L381.56,562.5 Q381.56,559 379.48,555.4 Q377.40,559 377.40,562.5 Z"/>
<path d="M383.84,508 L387.79,508 L387.79,512.5 Q387.79,516.5 385.81,520.6 Q383.84,516.5 383.84,512.5 Z"/>
<path d="M383.84,566 L387.79,566 L387.79,562.5 Q387.79,559 385.81,555.4 Q383.84,559 383.84,562.5 Z"/>
<path d="M390.01,508 L393.90,508 L393.90,512.5 Q393.90,516.5 391.96,520.6 Q390.01,516.5 390.01,512.5 Z"/>
<path d="M390.01,566 L393.90,566 L393.90,562.5 Q393.90,559 391.96,555.4 Q390.01,559 390.01,562.5 Z"/>
<path d="M396.10,508 L400.60,508 L400.60,512.5 Q400.60,516.5 398.35,520.6 Q396.10,516.5 396.10,512.5 Z"/>
<path d="M396.10,566 L400.60,566 L400.60,562.5 Q400.60,559 398.35,555.4 Q396.10,559 396.10,562.5 Z"/>
</g>
<g fill="#ddcba6">
<rect x="129.22" y="505" width="5.90" height="7"/>
<rect x="129.22" y="563" width="5.90" height="5"/>
<rect x="141.48" y="505" width="5.99" height="7"/>
<rect x="141.48" y="563" width="5.99" height="5"/>
<rect x="153.74" y="505" width="6.04" height="7"/>
<rect x="153.74" y="563" width="6.04" height="5"/>
<rect x="165.82" y="505" width="5.93" height="7"/>
<rect x="165.82" y="563" width="5.93" height="5"/>
<rect x="177.45" y="505" width="5.54" height="7"/>
<rect x="177.45" y="563" width="5.54" height="5"/>
<rect x="188.42" y="505" width="5.23" height="7"/>
<rect x="188.42" y="563" width="5.23" height="5"/>
<rect x="198.96" y="505" width="5.13" height="7"/>
<rect x="198.96" y="563" width="5.13" height="5"/>
<rect x="209.32" y="505" width="5.19" height="7"/>
<rect x="209.32" y="563" width="5.19" height="5"/>
<rect x="219.49" y="505" width="4.84" height="7"/>
<rect x="219.49" y="563" width="4.84" height="5"/>
<rect x="229.27" y="505" width="4.96" height="7"/>
<rect x="229.27" y="563" width="4.96" height="5"/>
<rect x="238.97" y="505" width="4.69" height="7"/>
<rect x="238.97" y="563" width="4.69" height="5"/>
<rect x="248.33" y="505" width="4.67" height="7"/>
<rect x="248.33" y="563" width="4.67" height="5"/>
<rect x="257.60" y="505" width="4.75" height="7"/>
<rect x="257.60" y="563" width="4.75" height="5"/>
<rect x="266.66" y="505" width="4.41" height="7"/>
<rect x="266.66" y="563" width="4.41" height="5"/>
<rect x="275.14" y="505" width="4.06" height="7"/>
<rect x="275.14" y="563" width="4.06" height="5"/>
<rect x="283.20" y="505" width="4.01" height="7"/>
<rect x="283.20" y="563" width="4.01" height="5"/>
<rect x="291.19" y="505" width="4.07" height="7"/>
<rect x="291.19" y="563" width="4.07" height="5"/>
<rect x="299.14" y="505" width="3.94" height="7"/>
<rect x="299.14" y="563" width="3.94" height="5"/>
<rect x="306.92" y="505" width="4.01" height="7"/>
<rect x="306.92" y="563" width="4.01" height="5"/>
<rect x="314.67" y="505" width="3.93" height="7"/>
<rect x="314.67" y="563" width="3.93" height="5"/>
<rect x="322.20" y="505" width="3.72" height="7"/>
<rect x="322.20" y="563" width="3.72" height="5"/>
<rect x="329.49" y="505" width="3.80" height="7"/>
<rect x="329.49" y="563" width="3.80" height="5"/>
<rect x="336.72" y="505" width="3.58" height="7"/>
<rect x="336.72" y="563" width="3.58" height="5"/>
<rect x="343.70" y="505" width="3.64" height="7"/>
<rect x="343.70" y="563" width="3.64" height="5"/>
<rect x="350.65" y="505" width="3.50" height="7"/>
<rect x="350.65" y="563" width="3.50" height="5"/>
<rect x="357.44" y="505" width="3.51" height="7"/>
<rect x="357.44" y="563" width="3.51" height="5"/>
<rect x="364.25" y="505" width="3.65" height="7"/>
<rect x="364.25" y="563" width="3.65" height="5"/>
<rect x="371.10" y="505" width="3.55" height="7"/>
<rect x="371.10" y="563" width="3.55" height="5"/>
<rect x="377.75" y="505" width="3.46" height="7"/>
<rect x="377.75" y="563" width="3.46" height="5"/>
<rect x="384.19" y="505" width="3.26" height="7"/>
<rect x="384.19" y="563" width="3.26" height="5"/>
<rect x="390.36" y="505" width="3.19" height="7"/>
<rect x="390.36" y="563" width="3.19" height="5"/>
<rect x="396.45" y="505" width="3.80" height="7"/>
<rect x="396.45" y="563" width="3.80" height="5"/>
</g>
<rect x="362.4" y="602" width="23.6" height="3.3" fill="#fff"/>
</g>
<rect x="137.1" y="512.8" width="37.8" height="50.4" fill="none" stroke="#cc2a3c" stroke-width="1.3"/>
<path d="M118.8,464 L137.1,512.8 M118.8,613.2 L137.1,563.2" stroke="#cc2a3c" stroke-width="1.35" fill="none"/>
<rect x="352.9" y="514.6" width="36.3" height="47.5" fill="none" stroke="#2e3192" stroke-width="1.2"/>
<path d="M389.2,514.6 L404.5,464.1 M389.2,562.1 L404.5,613.2" stroke="#2b2e8c" stroke-width="1.45" fill="none"/>
<linearGradient id="gR" gradientUnits="userSpaceOnUse" x1="0" y1="464" x2="0" y2="613"><stop offset="0" stop-color="#8eae8c"/><stop offset="0.52" stop-color="#86a987"/><stop offset="0.68" stop-color="#94b394"/><stop offset="0.85" stop-color="#83a284"/><stop offset="1" stop-color="#7b997c"/></linearGradient>
<linearGradient id="gRP" gradientUnits="userSpaceOnUse" x1="0" y1="464" x2="0" y2="536"><stop offset="0" stop-color="#5f4e70"/><stop offset="0.25" stop-color="#7d6790"/><stop offset="0.5" stop-color="#9480a3"/><stop offset="1" stop-color="#9f90ab" stop-opacity="0.85"/></linearGradient>
<g clip-path="url(#clipR)">
<rect x="404.5" y="464.3" width="111.79999999999995" height="148.90000000000003" fill="url(#gR)"/>
<g filter="url(#bl1)" fill="url(#gRP)">
<rect x="395" y="455" width="130" height="30"/>
<path d="M425.45,480 L439.05,480 L438.75,485 Q435.25,501 433.75,536 L430.75,536 Q429.25,501 425.75,485 Z"/>
<path d="M445.25,480 L458.85,480 L458.55,485 Q455.05,501 453.55,536 L450.55,536 Q449.05,501 445.55,485 Z"/>
<path d="M464.7,480 L478.3,480 L478.0,485 Q474.5,501 473.0,536 L470.0,536 Q468.5,501 465.0,485 Z"/>
<path d="M484.2,480 L497.8,480 L497.5,485 Q494.0,501 492.5,536 L489.5,536 Q488.0,501 484.5,485 Z"/>
<path d="M400,480 L419,480 L418.6,485 Q415.0,501 413.3,536 L400,536 Z"/>
<path d="M520,480 L504.2,480 L504.6,485 Q508.2,501 510,536 L520,536 Z"/>
</g>
<path d="M416.6,462.3 L427.79999999999995,462.3 L428.59999999999997,468 L422.7,483.3 L421.7,483.3 L415.8,468 Z" fill="#cfc1a0" stroke="#6d6770" stroke-opacity="0.55" stroke-width="0.9" stroke-linejoin="round"/>
<path d="M436.70000000000005,462.3 L447.9,462.3 L448.7,468 L442.8,483.3 L441.8,483.3 L435.90000000000003,468 Z" fill="#cfc1a0" stroke="#6d6770" stroke-opacity="0.55" stroke-width="0.9" stroke-linejoin="round"/>
<path d="M456.20000000000005,462.3 L467.4,462.3 L468.2,468 L462.3,483.3 L461.3,483.3 L455.40000000000003,468 Z" fill="#cfc1a0" stroke="#6d6770" stroke-opacity="0.55" stroke-width="0.9" stroke-linejoin="round"/>
<path d="M475.6,462.3 L486.79999999999995,462.3 L487.59999999999997,468 L481.7,483.3 L480.7,483.3 L474.8,468 Z" fill="#cfc1a0" stroke="#6d6770" stroke-opacity="0.55" stroke-width="0.9" stroke-linejoin="round"/>
<path d="M495.20000000000005,462.3 L506.4,462.3 L507.2,468 L501.3,483.3 L500.3,483.3 L494.40000000000003,468 Z" fill="#cfc1a0" stroke="#6d6770" stroke-opacity="0.55" stroke-width="0.9" stroke-linejoin="round"/>
<path d="M415.9,614.2 L426.9,614.2 L427.59999999999997,604.5 L421.79999999999995,592.2 L421.0,592.2 L415.2,604.5 Z" fill="#d6c7a4" stroke="#5f7a62" stroke-opacity="0.65" stroke-width="1.0" stroke-linejoin="round"/>
<path d="M436.1,614.2 L447.1,614.2 L447.8,604.5 L442.0,592.2 L441.20000000000005,592.2 L435.40000000000003,604.5 Z" fill="#d6c7a4" stroke="#5f7a62" stroke-opacity="0.65" stroke-width="1.0" stroke-linejoin="round"/>
<path d="M455.8,614.2 L466.8,614.2 L467.5,604.5 L461.7,592.2 L460.90000000000003,592.2 L455.1,604.5 Z" fill="#d6c7a4" stroke="#5f7a62" stroke-opacity="0.65" stroke-width="1.0" stroke-linejoin="round"/>
<path d="M475.7,614.2 L486.7,614.2 L487.4,604.5 L481.59999999999997,592.2 L480.8,592.2 L475.0,604.5 Z" fill="#d6c7a4" stroke="#5f7a62" stroke-opacity="0.65" stroke-width="1.0" stroke-linejoin="round"/>
<path d="M494.8,614.2 L505.8,614.2 L506.5,604.5 L500.7,592.2 L499.90000000000003,592.2 L494.1,604.5 Z" fill="#d6c7a4" stroke="#5f7a62" stroke-opacity="0.65" stroke-width="1.0" stroke-linejoin="round"/>
<rect x="404.5" y="534.6" width="111.79999999999995" height="7.2" fill="#2b3a2b" fill-opacity="0.36"/>
</g>
<rect x="404.5" y="464.3" width="111.79999999999995" height="148.90000000000003" fill="none" stroke="#2e3192" stroke-width="1.3"/>
</g>
</svg>
</body></html>
